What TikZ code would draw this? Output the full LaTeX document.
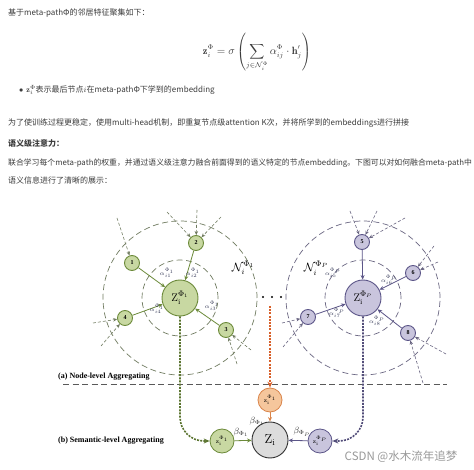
\documentclass[tikz,border=0pt]{standalone}
\usepackage{amsmath}
\usepackage{amssymb}
\usepackage{fontspec}
\newfontfamily\cjk{Noto Sans CJK SC}
\newfontfamily\figfont{Liberation Serif}
\usetikzlibrary{arrows.meta}
\usetikzlibrary{positioning}

\definecolor{txt}{HTML}{3C3C3C}
\definecolor{gfill}{HTML}{C8D8A2}
\definecolor{gline}{HTML}{6C8A3A}
\definecolor{gdash}{HTML}{707B60}
\definecolor{pfill}{HTML}{C9C5DD}
\definecolor{pline}{HTML}{5C5688}
\definecolor{pdash}{HTML}{6A6682}
\definecolor{ofill}{HTML}{F5C69C}
\definecolor{oline}{HTML}{D9844A}
\definecolor{odot}{HTML}{D8602A}
\definecolor{zfill}{HTML}{DCDCDC}
\definecolor{alab}{HTML}{3B3F5C}

\tikzset{
  para/.style={anchor=west,inner sep=0pt,text=txt,font=\cjk\fontsize{8}{10}\selectfont},
  small/.style={circle,line width=0.9pt,minimum size=15pt,inner sep=0pt,
    font=\figfont\bfseries\fontsize{6}{6}\selectfont},
  big/.style={circle,line width=0.9pt,minimum size=36pt,inner sep=0pt,
    font=\figfont\fontsize{11}{11}\selectfont},
  mid/.style={circle,line width=0.8pt,minimum size=24pt,inner sep=0pt,
    font=\figfont\fontsize{6}{6}\selectfont},
  gnode/.style={draw=gline,fill=gfill},
  pnode/.style={draw=pline,fill=pfill},
  ring/.style={dash pattern=on 6pt off 3.5pt,line width=0.7pt},
  spoke/.style={densely dashed,line width=0.6pt,-{Stealth[length=4pt,width=3.5pt]}},
  agg/.style={line width=0.8pt,-{Stealth[length=4.5pt,width=4pt]}},
  dots/.style={dash pattern=on 2pt off 1.2pt,line width=1.6pt,-{Stealth[length=6pt,width=5pt]}},
  alpha/.style={text=alab,inner sep=0pt,font=\fontsize{6}{6}\selectfont},
  beta/.style={text=black!80,inner sep=0pt,font=\fontsize{9}{9}\selectfont},
  level/.style={anchor=west,inner sep=0pt,font=\figfont\bfseries\fontsize{8}{8}\selectfont}
}

\begin{document}
\begin{tikzpicture}[x=1pt,y=-1pt]
  \fill[white] (0,0) rectangle (474,470);
  \useasboundingbox (0,0) rectangle (474,470);

  % text of the post
  \node[para] (t1) at (8,13) {基于meta-pathΦ的邻居特征聚集如下：};
  \node[text=txt,inner sep=0pt,font=\fontsize{10.5}{12}\selectfont] (eq) at (257,52)
    {$\displaystyle \mathbf{z}_i^{\Phi}=\sigma\left(\sum_{j\in\mathcal{N}_i^{\Phi}}\alpha_{ij}^{\Phi}\cdot\mathbf{h}'_j\right)$};
  \node[para] (t2) at (19,90) {$\bullet$\hspace{3pt}$\mathbf{z}_i^{\Phi}$表示最后节点$i$在meta-pathΦ下学到的embedding};
  \node[para] (t3) at (8,123) {为了使训练过程更稳定，使用multi-head机制，即重复节点级attention K次，并将所学到的embeddings进行拼接};
  \node[para,font=\cjk\bfseries\fontsize{8}{10}\selectfont] (t4) at (8,143) {语义级注意力：};
  \node[para,font=\cjk\fontsize{7.85}{10}\selectfont] (t5) at (8,163) {联合学习每个meta-path的权重，并通过语义级注意力融合前面得到的语义特定的节点embedding。下图可以对如何融合meta-path中};
  \node[para] (t6) at (8,180) {语义信息进行了清晰的展示：};

  % node-level, meta-path Phi_1
  \coordinate (cg) at (180,298);
  \draw[ring,gdash] (cg) circle[radius=38pt];
  \draw[ring,gdash] (cg) circle[radius=77pt];
  \node[big,gnode] (Zg) at (cg) {$\mathrm{Z}_{\mathrm{i}}^{\Phi_1}$};
  \node[small,gnode] (g1) at (132,263) {1};
  \node[small,gnode] (g2) at (196,243) {2};
  \node[small,gnode] (g3) at (226,330) {3};
  \node[small,gnode] (g4) at (125,318) {4};
  \foreach \x/\y/\t in {117/218/1, 167/212/2, 197/210/2, 221/217/2, 237/364/3, 251/350/3, 93/323/4, 101/346/4}{
    \coordinate (e) at (\x,\y);
    \draw[spoke,gdash] (e) -- (g\t);
  }
  \foreach \n in {1,...,4}
    \draw[agg,gline] (g\n) -- (Zg);
  \node[alpha] (ag1) at (167,273) {$\alpha_{i1}^{\Phi_1}$};
  \node[alpha] (ag2) at (193,273) {$\alpha_{i2}^{\Phi_1}$};
  \node[alpha] (ag3) at (212,306) {$\alpha_{i3}^{\Phi_1}$};
  \node[alpha] (ag4) at (157,309) {$\alpha_{i4}^{\Phi_1}$};
  \node[font=\fontsize{12}{12}\selectfont] (Ng) at (243,268) {$\mathcal{N}_i^{\Phi_1}$};

  % node-level, meta-path Phi_P
  \coordinate (cp) at (363,298);
  \draw[ring,pdash] (cp) circle[radius=38pt];
  \draw[ring,pdash] (cp) circle[radius=77pt];
  \node[big,pnode] (Zp) at (cp) {$\mathrm{Z}_{\mathrm{i}}^{\Phi_P}$};
  \node[small,pnode] (p5) at (362,242) {5};
  \node[small,pnode] (p6) at (413,273) {6};
  \node[small,pnode] (p7) at (308,317) {7};
  \node[small,pnode] (p8) at (408,333) {8};
  \foreach \x/\y/\t in {350/211/5, 377/211/5, 405/218/5, 434/246/6, 438/262/6, 282/323/7, 283/347/7, 446/354/8, 423/383/8}{
    \coordinate (e) at (\x,\y);
    \draw[spoke,pdash] (e) -- (p\t);
  }
  \foreach \n in {5,...,8}
    \draw[agg,pline] (p\n) -- (Zp);
  \node[alpha] (ap5) at (333,273) {$\alpha_{i5}^{\Phi_P}$};
  \node[alpha] (ap6) at (389,280) {$\alpha_{i6}^{\Phi_P}$};
  \node[alpha] (ap7) at (337,313) {$\alpha_{i7}^{\Phi_P}$};
  \node[alpha] (ap8) at (377,321) {$\alpha_{i8}^{\Phi_P}$};
  \node[font=\fontsize{12}{12}\selectfont] (Np) at (316,268) {$\mathcal{N}_i^{\Phi_P}$};

  \foreach \x in {263,272,281}
    \fill (\x,297) circle[radius=1.2pt];

  % the two levels
  \coordinate (sepL) at (63,384);
  \coordinate (sepR) at (447,384);
  \draw[dash pattern=on 6pt off 3.5pt,line width=0.8pt,black!65] (sepL) -- (sepR);
  \node[level] (la) at (58,377) {(a) Node-level Aggregating};
  \node[level] (lb) at (58,441) {(b) Semantic-level Aggregating};

  % semantic-level
  \node[big,draw=black!80,fill=zfill,font=\figfont\fontsize{13}{13}\selectfont] (Z) at (270,440) {$\mathrm{Z}_{\mathrm{i}}$};
  \node[mid,draw=oline,fill=ofill] (zo) at (270,400) {$\mathrm{z}_{\mathrm{i}}^{\Phi_1}$};
  \node[mid,gnode] (zg) at (222,441) {$\mathrm{z}_{\mathrm{i}}^{\Phi_1}$};
  \node[mid,pnode] (zp) at (320,441) {$\mathrm{z}_{\mathrm{i}}^{\Phi_P}$};
  \draw[agg,oline] (zo) -- (Z);
  \draw[agg,gline] (zg) -- (Z);
  \draw[agg,pline] (zp) -- (Z);
  \node[beta] (bo) at (257,421) {$\beta_{\Phi_1}$};
  \node[beta] (bg) at (241,432) {$\beta_{\Phi_1}$};
  \node[beta] (bp) at (302,432) {$\beta_{\Phi_P}$};

  \coordinate (os) at (270,306);
  \draw[dots,odot] (os) -- (zo);
  \draw[dots,gline!85!black,rounded corners=24pt] (Zg.south) |- (zg.west);
  \draw[dots,pline!90!black,rounded corners=24pt] (Zp.south) |- (zp.east);

  \node[text=black!40,font=\cjk\fontsize{11.5}{11.5}\selectfont] (wm) at (401,457) {CSDN @水木流年追梦};
\end{tikzpicture}
\end{document}
